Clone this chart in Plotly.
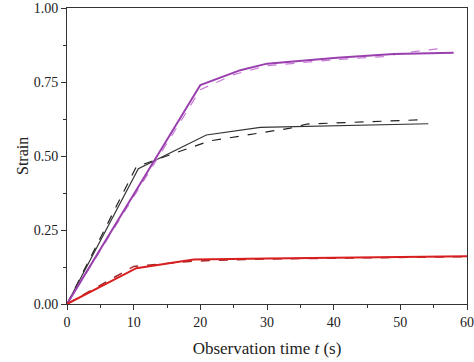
import plotly.graph_objects as go

# Purple (solid = model, dashed = experiment)
purple_solid_t = [0, 20, 26, 30, 40.5, 49, 58]
purple_solid_s = [0, 0.74, 0.79, 0.812, 0.832, 0.845, 0.849]
purple_dash_t = [0, 20, 25, 30, 40, 47.5, 51, 56.5]
purple_dash_s = [0, 0.724, 0.775, 0.805, 0.825, 0.836, 0.85, 0.864]

# Black
black_solid_t = [0, 10.7, 20.9, 29, 54.2]
black_solid_s = [0, 0.457, 0.571, 0.597, 0.609]
black_dash_t = [0, 10.4, 21.4, 33.5, 36, 52.7]
black_dash_s = [0, 0.464, 0.551, 0.594, 0.608, 0.622]

# Red
red_solid_t = [0, 10.4, 19, 30, 60]
red_solid_s = [0, 0.121, 0.15, 0.154, 0.161]
red_dash_t = [0, 10, 19, 30, 60]
red_dash_s = [0, 0.127, 0.145, 0.152, 0.160]

x_ticks = [0, 10, 20, 30, 40, 50, 60]
y_ticks = [0, 0.25, 0.5, 0.75, 1.0]
y_tick_labels = ["0.00", "0.25", "0.50", "0.75", "1.00"]

fig = go.Figure()

def add(t, s, color, dash, width):
    fig.add_trace(go.Scatter(x=t, y=s, mode="lines",
                             line=dict(color=color, dash=dash, width=width),
                             showlegend=False, hoverinfo="skip", cliponaxis=False))

add(black_dash_t, black_dash_s, "#222222", "dash", 1.2)
add(black_solid_t, black_solid_s, "#333333", "solid", 1.2)
add(purple_dash_t, purple_dash_s, "#c77ad6", "dash", 1.2)
add(purple_solid_t, purple_solid_s, "#9a3fae", "solid", 2)
add(red_dash_t, red_dash_s, "#a02828", "dash", 1.5)
add(red_solid_t, red_solid_s, "#d81e1e", "solid", 2)

font = dict(family="Liberation Serif, Times New Roman, serif", size=14, color="#222222")
title_font = dict(family="Liberation Serif, Times New Roman, serif", size=16, color="#222222")

fig.update_layout(
    width=474, height=362,
    margin=dict(l=67, r=7, t=8, b=58, autoexpand=False),
    plot_bgcolor="white", paper_bgcolor="white",
    font=font,
    xaxis=dict(
        range=[0, 60], tickvals=x_ticks, ticks="outside", ticklen=5,
        tickcolor="#333", showline=True, linecolor="#333", linewidth=1,
        mirror=True, showgrid=False, zeroline=False, automargin=False,
        ticklabeloverflow="allow",
        minor=dict(dtick=5, ticks="outside", ticklen=3, tickcolor="#333"),
        title=dict(text="Observation time <i>t</i> (s)", standoff=13),
    ),
    yaxis=dict(
        range=[0, 1.0], tickvals=y_ticks, ticktext=y_tick_labels,
        ticks="outside", ticklen=5, tickcolor="#333",
        showline=True, linecolor="#333", linewidth=1, mirror=True,
        showgrid=False, zeroline=False, automargin=False,
        ticklabeloverflow="allow",
        minor=dict(dtick=0.125, ticks="outside", ticklen=3, tickcolor="#333"),
    ),
    annotations=[dict(text="Strain", textangle=-90, xref="paper", yref="paper",
                      x=-45 / 400, y=0.5, xanchor="center", yanchor="middle",
                      showarrow=False, font=title_font)],
)

fig.write_html("out.html",
               config={"displayModeBar": False},
               post_script="document.body.style.margin='0';document.body.style.overflow='hidden';")
